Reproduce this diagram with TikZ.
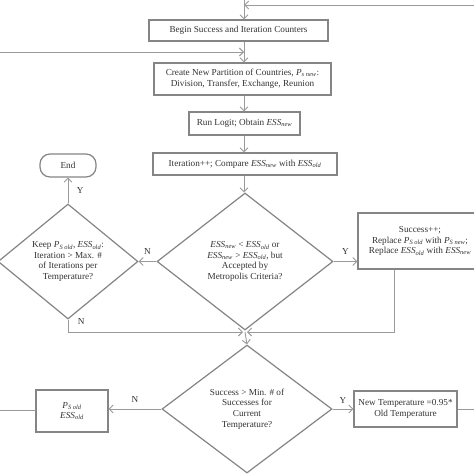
\documentclass[tikz,border=0pt]{standalone}
\usepackage{fontspec}
\setmainfont{Liberation Serif}
\usetikzlibrary{shapes.geometric, arrows.meta, positioning}
\definecolor{LineGray}{HTML}{9A9A9A}
\definecolor{BoxGray}{HTML}{858585}
\definecolor{TextGray}{HTML}{333333}
\newcommand{\essv}[1]{\textit{ESS}\textsubscript{\textit{#1}}}
\newcommand{\partv}[1]{\textit{P}\textsubscript{\textit{#1}}}
\tikzset{
  stepbox/.style={rectangle, draw=BoxGray, line width=1.2pt, text=TextGray, inner sep=0pt, align=center, font=\fontsize{9.2}{10.6}\selectfont},
  terminal/.style={stepbox, rounded corners=10pt},
  decision/.style={diamond, draw=BoxGray, line width=1.2pt, text=TextGray, inner sep=0pt, align=center, font=\fontsize{9.2}{10.6}\selectfont},
  arrow/.style={-{Straight Barb[length=4pt, width=8pt]}, LineGray, line width=0.9pt},
  flowline/.style={LineGray, line width=0.9pt},
  lbl/.style={text=TextGray, font=\fontsize{9.2}{10.6}\selectfont}
}
\begin{document}
\begin{tikzpicture}[x=1pt, y=-1pt]
  \fill[white] (0,0) rectangle (474,474);
  \useasboundingbox (0,0) rectangle (474,474);

  \coordinate (spine) at (244,0);
  \coordinate (intop) at (244,-5);
  \coordinate (loopin) at (480,5);
  \coordinate (joinA) at (244,5);
  \coordinate (loopout) at (-5,52);
  \coordinate (joinB) at (244,52);
  \coordinate (merge) at (245,332);
  \coordinate (exitL) at (-5,410);
  \coordinate (exitR) at (480,409);

  \node[stepbox, minimum width=179, minimum height=21] (begin) at (238.5,30.5) {Begin Success and Iteration Counters};
  \node[stepbox, minimum width=177, minimum height=32] (create) at (242.5,79) {Create New Partition of Countries, \partv{s new}:\\Division, Transfer, Exchange, Reunion};
  \node[stepbox, minimum width=111, minimum height=23] (logit) at (244.5,123.5) {Run Logit; Obtain \essv{new}};
  \node[stepbox, minimum width=184, minimum height=22] (iter) at (245,164) {Iteration++; Compare \essv{new} with \essv{old}};
  \node[decision, minimum width=176, minimum height=137] (accept) at (245,261.5) {\essv{new} < \essv{old} or\\\essv{new} > \essv{old}, but\\Accepted by\\Metropolis Criteria?};
  \node[decision, minimum width=140, minimum height=115] (keep) at (68,261.5) {Keep \partv{S old}, \essv{old}:\\Iteration > Max. \#\\of Iterations per\\Temperature?};
  \node[terminal, minimum width=56, minimum height=23] (finish) at (68,165.5) {End};
  \node[stepbox, minimum width=124, minimum height=56] (success) at (420,241) {Success++;\\Replace \partv{S old} with \partv{S new};\\Replace \essv{old} with \essv{new}};
  \node[decision, minimum width=170, minimum height=128] (mintest) at (247,409) {Success > Min. \# of\\Successes for\\Current\\Temperature?};
  \node[stepbox, minimum width=72, minimum height=42] (revert) at (72,411) {\partv{S old}\\\essv{old}};
  \node[stepbox, minimum width=103, minimum height=36] (cool) at (405.5,409) {New Temperature =0.95*\\Old Temperature};

  \draw[arrow] (loopin) -- (joinA);
  \draw[arrow] (intop) -- (begin.north -| spine);
  \draw[arrow] (loopout) -- (joinB);
  \draw[arrow] (begin.south -| spine) -- (create.north -| spine);
  \draw[arrow] (create.south -| spine) -- (logit.north -| spine);
  \draw[arrow] (logit.south -| spine) -- (iter.north -| spine);
  \draw[arrow] (iter.south -| spine) -- (accept.north -| spine);
  \draw[arrow] (accept.west) -- (keep.east) node[lbl, midway, above=3pt] {N};
  \draw[arrow] (accept.east) -- (accept.east -| success.west) node[lbl, midway, above=3pt] {Y};
  \draw[arrow] (keep.north) -- (finish.south) node[lbl, midway, right=5pt] {Y};
  \draw[arrow] (keep.south) |- ([xshift=-2pt]merge) node[lbl, pos=0.08, right=6pt] {N};
  \draw[arrow] ([xshift=-26pt]success.south) |- ([xshift=2pt]merge);
  \draw[arrow] (merge) -- (mintest.north);
  \draw[arrow] (mintest.west) -- (mintest.west -| revert.east) node[lbl, midway, above=3pt] {N};
  \draw[arrow] (mintest.east) -- (cool.west) node[lbl, midway, above=2pt] {Y};
  \draw[flowline] (revert.west) -- (exitL -| revert.west) -- (exitL);
  \draw[flowline] (cool.east) -- (exitR);
\end{tikzpicture}
\end{document}
